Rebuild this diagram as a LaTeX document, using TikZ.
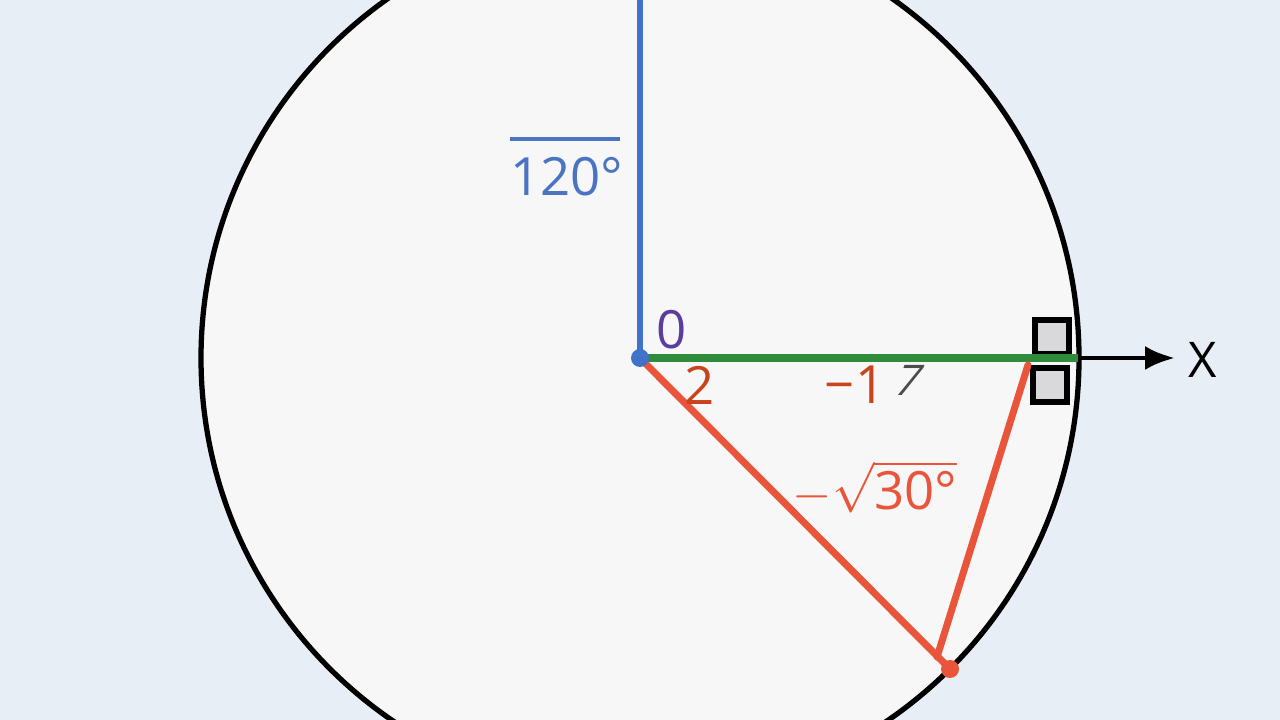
\documentclass[tikz,border=0pt]{standalone}
\usepackage{fontspec}
\setmainfont{Open Sans}
\usepackage{amsmath}
\usetikzlibrary{calc,arrows.meta}
\definecolor{bgblue}{HTML}{E8EEF6}
\definecolor{discgray}{HTML}{F7F7F7}
\definecolor{boxgray}{HTML}{D9D9DB}
\definecolor{lineblue}{HTML}{3F72C8}
\definecolor{textblue}{HTML}{4A74C2}
\definecolor{linegreen}{HTML}{2F8C3A}
\definecolor{linered}{HTML}{E9553A}
\definecolor{textorange}{HTML}{C9441C}
\definecolor{textpurple}{HTML}{5A3E9E}
\newcommand*{\MarkSquares}[1]{% #1 = list of name/x/y
\foreach \name/\x/\y in {#1} {
\node (\name) [fill=boxgray, draw=black, line width=1.5pt, minimum size=0.34cm, inner sep=0pt]
at (\x,\y) {};
}%
}
\tikzset{
  lbl/.style={font=\fontsize{15}{18}\selectfont, inner sep=1pt},
}

\begin{document}
\begin{tikzpicture}[scale=1]

            \useasboundingbox (0,0) rectangle (12.8,7.2);
            \fill[bgblue] (0,0) rectangle (12.8,7.2);
            \begin{scope}
                \clip (0,0) rectangle (12.8,7.2);
                \coordinate (O) at (6.40,3.62);
                \draw[line width=1.5pt, fill=discgray] (O) circle (4.39);
                \coordinate (T) at (6.40,7.30);
                \draw[lineblue, line width=1.7pt] (O) -- (T);
            \end{scope}

            % axis and radius
            \coordinate (G) at (10.78,3.62);
            \coordinate (A) at (11.75,3.62);
            \draw[line width=1.4pt, -{Latex[length=0.3cm,width=0.24cm]}] (G) -- (A);
            \node (X) [lbl, font=\fontsize{14}{16}\selectfont] at (12.03,3.60) {X};
            \MarkSquares{sqa/10.52/3.83,sqb/10.50/3.35}
            \draw[linegreen, line width=2.2pt] (O) -- (G);

            % triangle
            \coordinate (P) at (9.50,0.51);
            \coordinate (Q) at (10.28,3.55);
            \coordinate (R) at (9.37,0.63);
            \draw[linered, line width=2pt, line cap=round] (O) -- (P);
            \draw[linered, line width=2pt, line cap=round] (Q) -- (R);
            \fill[linered] (P) circle (0.09);
            \fill[lineblue] (O) circle (0.09);

            % labels
            \node (ang) [lbl, text=textblue] at (5.67,5.43) {120°};
            \draw[textblue, line width=1pt] (5.10,5.81) -- (6.20,5.81);
            \node (zero) [lbl, text=textpurple] at (6.72,3.90) {0};
            \node (two) [lbl, text=textorange] at (7.00,3.35) {2};
            \node (one) [lbl, text=textorange] at (8.55,3.35) {−1};
            \node (seven) [text=black!70, xslant=0.35, font=\fontsize{12}{14}\selectfont] at (9.10,3.40) {7};
            \node (root) [lbl, text=linered] at (8.75,2.33) {$-\sqrt{\text{30°}}$};

        \end{tikzpicture}
\end{document}
